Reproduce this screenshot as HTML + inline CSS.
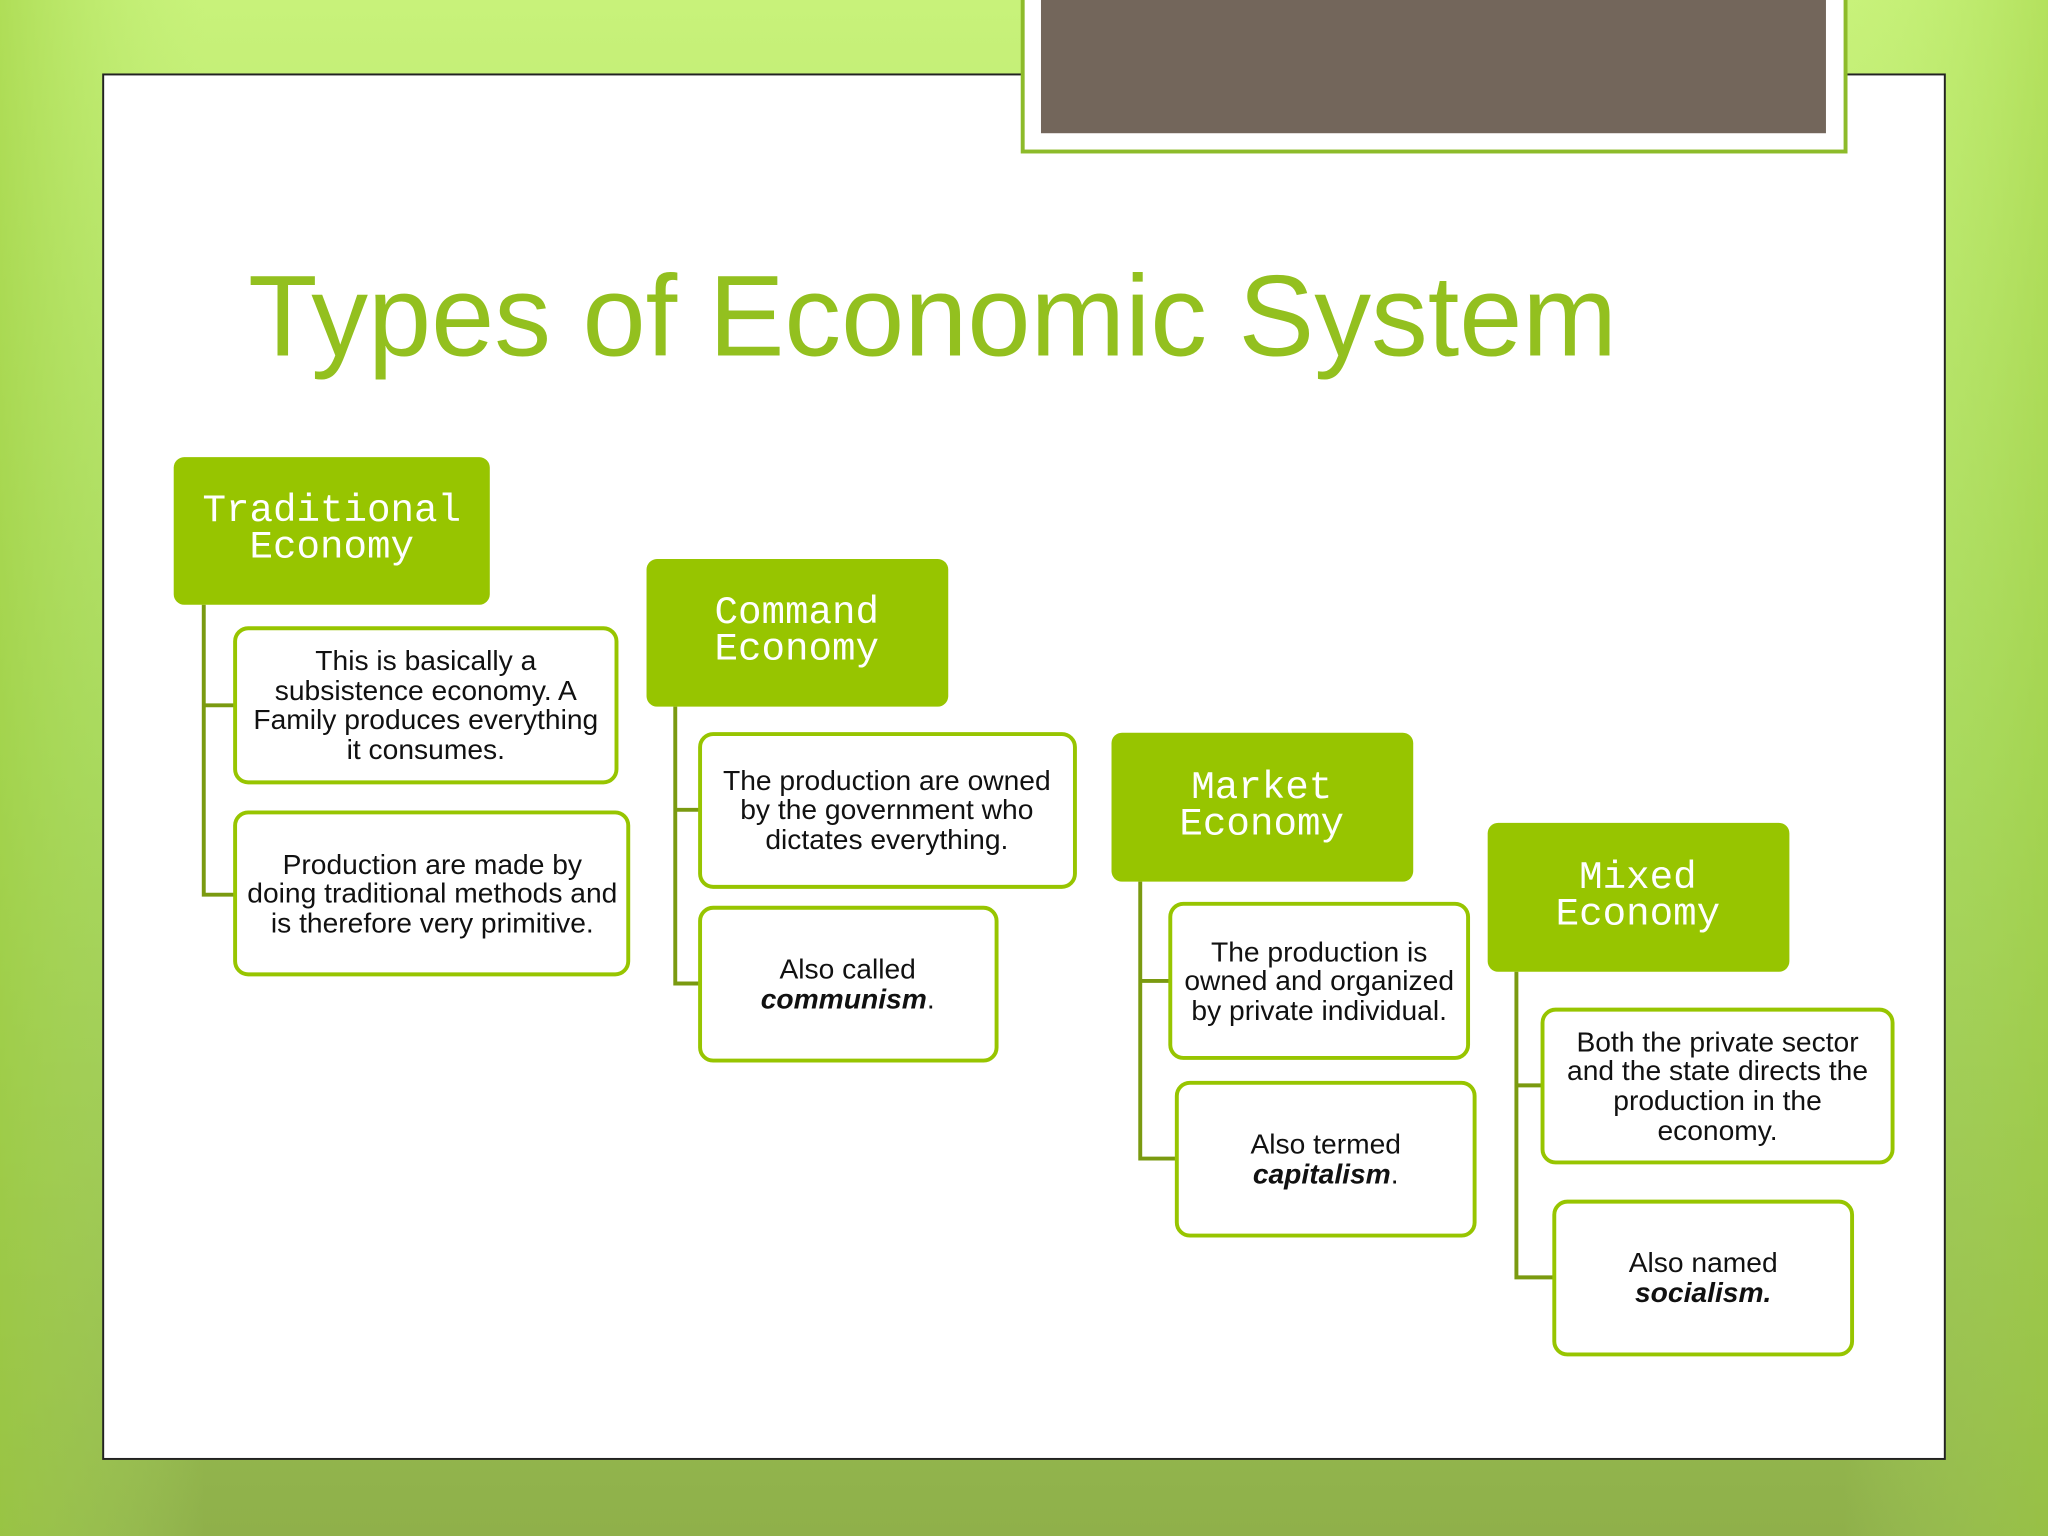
<!DOCTYPE html>
<html><head><meta charset="utf-8"><style>
html,body{margin:0;padding:0;width:2048px;height:1536px;overflow:hidden}
svg{display:block}
.h{font-family:"Liberation Mono",monospace;font-size:30px;fill:#fff;text-anchor:middle}
.t{font-family:"Liberation Sans",sans-serif;font-size:21.6px;fill:#111;text-anchor:middle}
.hb{fill:#97c500}
.cb{fill:#fff;stroke:#97c500;stroke-width:3}
.ln{stroke:#7a9a10;stroke-width:3;fill:none}
</style></head><body>
<svg width="2048" height="1536" viewBox="0 0 1568 1176" xmlns="http://www.w3.org/2000/svg">
<defs>
<linearGradient id="bg" x1="0" y1="0" x2="0" y2="1">
<stop offset="0" stop-color="#c8f27a"/><stop offset="0.5" stop-color="#a8d860"/><stop offset="1" stop-color="#8fb04a"/>
</linearGradient>
<linearGradient id="bg2" x1="0" y1="0" x2="1" y2="0">
<stop offset="0" stop-color="#9fd040" stop-opacity="0.6"/><stop offset="0.1" stop-color="#b8e870" stop-opacity="0"/><stop offset="0.9" stop-color="#b8e870" stop-opacity="0"/><stop offset="1" stop-color="#9fd040" stop-opacity="0.5"/>
</linearGradient>
</defs>
<rect width="1568" height="1176" fill="url(#bg)"/>
<rect width="1568" height="1176" fill="url(#bg2)"/>
<rect x="79" y="57" width="1410" height="1060" fill="#fff" stroke="#222" stroke-width="1.5"/>
<rect x="783" y="-5" width="630" height="121" fill="#fff" stroke="#8dbb2a" stroke-width="3"/>
<rect x="797" y="0" width="601" height="102" fill="#73665b"/>
<text x="190" y="272" font-family="Liberation Sans, sans-serif" font-size="88" fill="#93c01f" textLength="1048" lengthAdjust="spacingAndGlyphs">Types of Economic System</text>

<path class="ln" d="M156 463V685H182M156 540H182"/>
<path class="ln" d="M517 541V753H538M517 620H538"/>
<path class="ln" d="M873 675V887H903M873 751H898"/>
<path class="ln" d="M1161 744V978H1192M1161 831H1183"/>

<rect class="hb" x="133" y="350" width="242" height="113" rx="8"/>
<text class="h" x="254" y="399">Traditional</text><text class="h" x="254" y="427">Economy</text>
<rect class="cb" x="180" y="481" width="292" height="118" rx="10"/>
<text class="t" x="326" y="513">This is basically a</text><text class="t" x="326" y="536">subsistence economy. A</text><text class="t" x="326" y="558">Family produces everything</text><text class="t" x="326" y="581">it consumes.</text>
<rect class="cb" x="180" y="622" width="301" height="124" rx="10"/>
<text class="t" x="331" y="669">Production are made by</text><text class="t" x="331" y="691">doing traditional methods and</text><text class="t" x="331" y="714">is therefore very primitive.</text>

<rect class="hb" x="495" y="428" width="231" height="113" rx="8"/>
<text class="h" x="610" y="477">Command</text><text class="h" x="610" y="505">Economy</text>
<rect class="cb" x="536" y="562" width="287" height="117" rx="10"/>
<text class="t" x="679" y="605">The production are owned</text><text class="t" x="679" y="627">by the government who</text><text class="t" x="679" y="650">dictates everything.</text>
<rect class="cb" x="536" y="695" width="227" height="117" rx="10"/>
<text class="t" x="649" y="749">Also called</text><text class="t" x="649" y="772"><tspan font-weight="bold" font-style="italic">communism</tspan>.</text>

<rect class="hb" x="851" y="561" width="231" height="114" rx="8"/>
<text class="h" x="966" y="611">Market</text><text class="h" x="966" y="639">Economy</text>
<rect class="cb" x="896" y="692" width="228" height="118" rx="10"/>
<text class="t" x="1010" y="736">The production is</text><text class="t" x="1010" y="758">owned and organized</text><text class="t" x="1010" y="781">by private individual.</text>
<rect class="cb" x="901" y="829" width="228" height="117" rx="10"/>
<text class="t" x="1015" y="883">Also termed</text><text class="t" x="1015" y="906"><tspan font-weight="bold" font-style="italic">capitalism</tspan>.</text>

<rect class="hb" x="1139" y="630" width="231" height="114" rx="8"/>
<text class="h" x="1254" y="680">Mixed</text><text class="h" x="1254" y="708">Economy</text>
<rect class="cb" x="1181" y="773" width="268" height="117" rx="10"/>
<text class="t" x="1315" y="805">Both the private sector</text><text class="t" x="1315" y="827">and the state directs the</text><text class="t" x="1315" y="850">production in the</text><text class="t" x="1315" y="873">economy.</text>
<rect class="cb" x="1190" y="920" width="228" height="117" rx="10"/>
<text class="t" x="1304" y="974" fill="#333">Also named</text><text class="t" x="1304" y="997" font-weight="bold" font-style="italic" fill="#333">socialism.</text>
</svg>
</body></html>
